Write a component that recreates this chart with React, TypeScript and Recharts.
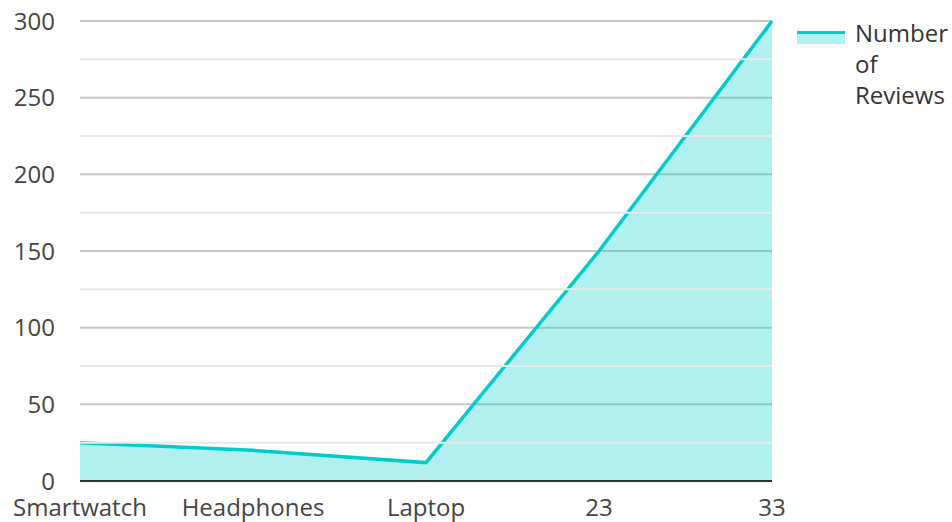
import React from 'react';
import { AreaChart, Area, XAxis, YAxis, CartesianGrid, ReferenceLine } from 'recharts';

const categories = ['Smartwatch', 'Headphones', 'Laptop', '23', '33'];
const reviews = [25, 20, 12, 150, 300];
const majorTicks = [0, 50, 100, 150, 200, 250, 300];
const minorTicks = [25, 75, 125, 175, 225, 275];

const data = categories.map((name, i) => ({ name, reviews: reviews[i] }));

const FONT = '"Open Sans", "Noto Sans", sans-serif';

// legend sits to the right of the plot, text wraps into three lines
const LegendBox = () => (
  <div
    style={{
      position: 'absolute', left: 797, top: 17, display: 'flex', alignItems: 'flex-start',
      fontFamily: FONT, fontSize: 24, color: '#333',
    }}
  >
    <svg width={48} height={28} style={{ marginRight: 10, flexShrink: 0 }}>
      <rect x={0} y={16} width={48} height={11} fill="#b2efef" />
      <line x1={0} y1={15.5} x2={48} y2={15.5} stroke="#00cccc" strokeWidth={3} />
    </svg>
    <div style={{ width: 95, lineHeight: '31px' }}>Number of Reviews</div>
  </div>
);

const App: React.FC = () => (
  <div style={{ position: 'absolute', left: 0, top: 0, width: 952, height: 522 }}>
    <AreaChart width={952} height={522} data={data} margin={{ top: 21, right: 180, left: 0, bottom: 0 }}>
      <CartesianGrid vertical={false} stroke="#c8c8c8" strokeWidth={2} />
      {minorTicks.map(v => (
        <ReferenceLine key={v} y={v} stroke="#e8e8e8" strokeWidth={2} />
      ))}
      <XAxis
        dataKey="name"
        interval={0}
        tickLine={false}
        tickSize={0}
        tickMargin={18}
        height={41}
        axisLine={{ stroke: '#333', strokeWidth: 2 }}
        tick={{ fill: '#444', fontSize: 24, fontFamily: FONT }}
      />
      <YAxis
        domain={[0, 300]}
        ticks={majorTicks}
        width={80}
        axisLine={false}
        tickLine={false}
        tickSize={0}
        tickMargin={25}
        tick={{ fill: '#444', fontSize: 24, fontFamily: FONT }}
      />
      <Area
        type="linear"
        dataKey="reviews"
        name="Number of Reviews"
        stroke="#00cccc"
        strokeWidth={3.5}
        fill="#00cccc"
        fillOpacity={0.3}
        dot={false}
        activeDot={false}
        isAnimationActive={false}
      />
    </AreaChart>
    <LegendBox />
  </div>
);

export default App;
